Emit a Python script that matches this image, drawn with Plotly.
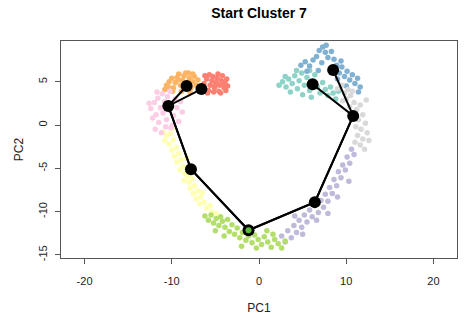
import plotly.graph_objects as go

# ---- data ----
salmon = [(-6.6,4.2),(-6.3,4.8),(-6.0,5.3),(-5.8,4.0),(-5.6,4.6),(-5.4,5.1),(-5.3,5.6),(-5.1,4.3),(-4.9,4.9),(-4.8,5.4),
          (-4.6,3.9),(-4.5,4.6),(-4.3,5.1),(-4.2,5.7),(-4.0,4.3),(-3.9,4.9),(-3.7,5.3),(-3.6,4.5),(-5.9,3.7),(-5.2,3.8),
          (-4.4,3.7),(-5.7,5.8),(-4.7,5.9),(-6.2,5.7),(-3.8,4.0),(-5.0,4.6),(-4.1,4.7),(-6.4,3.9)]
orange = [(-10.6,4.6),(-10.3,5.0),(-10.0,5.4),(-9.8,4.3),(-9.6,4.9),(-9.4,5.5),(-9.2,5.9),(-9.0,4.6),(-8.8,5.2),(-8.6,5.7),
          (-8.4,6.0),(-8.2,4.9),(-8.0,5.4),(-7.8,4.3),(-7.6,5.0),(-7.4,5.6),(-7.2,4.6),(-7.0,5.2),(-6.8,4.0),(-9.9,3.9),
          (-8.9,3.9),(-7.9,3.8),(-10.8,4.1),(-9.3,5.2),(-8.5,4.5),(-7.6,5.9),(-8.1,6.0),(-10.4,4.4)]
pink = [(-12.4,1.9),(-12.0,2.6),(-11.8,1.2),(-11.6,3.1),(-11.5,0.3),(-11.3,2.0),(-11.1,3.6),(-11.0,1.4),(-10.8,2.7),(-10.6,0.6),
        (-10.5,3.3),(-10.3,1.7),(-10.1,-0.3),(-10.0,2.5),(-9.8,1.1),(-9.6,3.0),(-9.4,2.0),(-9.2,0.4),(-9.0,2.7),(-8.8,1.5),
        (-12.2,0.8),(-11.9,-0.5),(-11.2,-0.9),(-10.7,-0.2),(-9.9,0.0),(-11.7,3.8),(-10.2,3.9),(-12.6,2.5)]
yellow = [(-11.0,-0.8),(-10.6,-1.2),(-10.2,-1.0),(-10.8,-1.8),(-10.3,-2.2),(-9.8,-1.7),(-10.0,-2.9),(-9.5,-2.6),(-9.7,-3.6),
          (-9.2,-3.3),(-9.4,-4.3),(-8.9,-4.0),(-8.7,-4.8),(-9.1,-5.2),(-8.5,-5.6),(-8.2,-5.9),(-8.6,-6.4),(-8.0,-6.6),
          (-7.7,-6.2),(-7.9,-7.3),(-7.4,-7.0),(-7.5,-7.9),(-7.0,-7.6),(-7.2,-8.5),(-6.7,-8.3),(-6.8,-9.1),(-6.3,-8.9),
          (-6.0,-9.6),(-5.6,-9.3),(-5.4,-10.0),(-4.9,-10.2),(-8.3,-3.8),(-7.6,-5.4),(-9.9,-0.4),(-6.5,-7.8)]
green = [(-6.2,-10.5),(-5.8,-11.0),(-5.5,-10.4),(-5.2,-11.3),(-4.9,-10.8),(-4.6,-11.6),(-4.4,-10.6),(-4.2,-11.1),(-3.9,-11.8),
         (-3.6,-10.9),(-3.4,-12.3),(-3.1,-11.5),(-2.8,-12.6),(-2.5,-11.9),(-2.2,-13.0),(-1.9,-12.4),(-1.5,-13.3),(-1.2,-12.8),
         (-0.8,-13.6),(-0.5,-12.7),(-0.1,-13.2),(0.3,-13.8),(0.6,-12.9),(1.0,-13.5),(1.4,-14.1),(1.8,-13.2),(2.2,-13.7),
         (2.6,-14.2),(3.0,-13.4),(-5.0,-12.2),(-2.0,-14.0),(-0.3,-14.2),(0.9,-12.2),(-4.0,-12.8),(1.6,-12.6)]
lavender = [(2.6,-12.8),(3.0,-13.5),(3.3,-12.2),(3.7,-13.0),(4.0,-11.6),(4.3,-12.4),(4.6,-11.0),(4.9,-11.8),(5.2,-10.4),
            (5.5,-11.2),(5.8,-9.8),(6.1,-10.6),(6.4,-9.3),(6.8,-10.1),(7.1,-8.7),(7.4,-9.5),(7.6,-8.0),(7.9,-8.8),(8.1,-7.2),
            (8.4,-7.9),(8.6,-6.3),(8.9,-7.0),(9.1,-5.4),(9.4,-6.1),(9.6,-4.6),(9.9,-5.2),(10.1,-3.7),(10.4,-4.4),(10.6,-2.8),
            (10.9,-3.4),(5.0,-12.6),(6.6,-11.0),(7.9,-10.2),(4.1,-10.5),(9.0,-8.3),(10.3,-6.5)]
gray = [(9.0,4.2),(9.5,4.6),(9.8,3.7),(10.2,4.1),(10.0,3.0),(10.5,3.4),(10.9,2.6),(10.4,2.1),(11.2,1.8),(11.6,2.3),(10.8,1.0),
        (11.4,0.6),(11.9,1.2),(11.1,-0.2),(11.7,-0.5),(12.2,0.2),(11.3,-1.2),(11.9,-1.6),(12.4,-0.9),(11.6,-2.3),(12.1,-2.8),
        (11.0,-2.0),(12.6,-1.8),(10.7,3.9),(12.3,2.9),(9.6,2.8)]
blue = [(4.8,6.9),(5.3,7.3),(5.8,6.8),(6.2,7.5),(6.6,7.9),(6.9,8.6),(7.3,9.0),(7.6,8.4),(7.9,7.8),(8.3,8.5),(8.6,7.6),(7.2,7.2),
        (8.9,6.9),(9.2,6.0),(9.5,6.7),(9.8,5.6),(10.1,6.2),(10.4,5.2),(10.7,5.8),(11.0,4.8),(11.3,5.4),(11.6,4.4),(10.0,4.5),
        (9.0,5.3),(8.4,6.4),(7.7,9.2),(5.5,6.2),(6.8,6.3),(11.4,3.8),(9.4,7.4)]
teal = [(2.3,4.6),(2.7,5.0),(3.1,4.4),(3.4,5.3),(3.8,4.8),(4.1,5.7),(4.4,4.2),(4.6,5.1),(4.9,6.0),(5.2,4.6),(5.5,5.5),(5.8,4.0),
        (6.1,5.0),(6.4,5.8),(6.7,4.4),(7.0,3.7),(7.3,4.9),(7.6,4.1),(7.9,3.4),(8.2,4.4),(8.5,3.7),(8.8,3.0),(9.1,3.9),(3.6,3.8),
        (5.0,3.5),(6.0,3.2),(3.0,5.6),(5.8,6.3),(4.3,6.3)]

clusters = [("teal", teal, "#8DD3C7"), ("yellow", yellow, "#FFFFB3"), ("lavender", lavender, "#BEBADA"),
            ("salmon", salmon, "#FB8072"), ("blue", blue, "#80B1D3"), ("orange", orange, "#FDB462"),
            ("green", green, "#B3DE69"), ("pink", pink, "#FCCDE5"), ("gray", gray, "#D9D9D9")]

# cluster centres
center_names = ["orange", "salmon", "pink", "yellow", "green", "lavender", "gray", "blue", "teal"]
center_x = [-8.3, -6.6, -10.4, -7.8, -1.2, 6.4, 10.8, 8.5, 6.15]
center_y = [4.5, 4.15, 2.2, -5.1, -12.15, -8.9, 1.05, 6.35, 4.7]
start_cluster = "green"

lineages = [["green", "yellow", "pink", "orange"],
            ["green", "yellow", "pink", "salmon"],
            ["green", "lavender", "gray", "blue"],
            ["green", "lavender", "gray", "teal"]]

x_ticks = [-20, -10, 0, 10, 20]
x_ticktext = ["-20", "-10", "0", "10", "20"]
y_ticks = [-15, -10, -5, 0, 5]
y_ticktext = ["-15", "-10", "-5", "0", "5"]

fig = go.Figure()
for name, pts, col in clusters:
    fig.add_trace(go.Scatter(x=[p[0] for p in pts], y=[p[1] for p in pts], mode="markers",
                             marker=dict(color=col, size=5.5, line=dict(width=0)), hoverinfo="skip"))

idx = {n: i for i, n in enumerate(center_names)}
for lin in lineages:
    fig.add_trace(go.Scatter(x=[center_x[idx[n]] for n in lin], y=[center_y[idx[n]] for n in lin],
                             mode="lines", line=dict(color="black", width=2)))

fig.add_trace(go.Scatter(x=center_x, y=center_y, mode="markers",
                         marker=dict(color="black", size=12, line=dict(width=0))))
s = idx[start_cluster]
fig.add_trace(go.Scatter(x=[center_x[s]], y=[center_y[s]], mode="markers",
                         marker=dict(color="#5DBB3A", size=6, line=dict(width=0))))

font_family = "Liberation Sans, Arial"
axis_common = dict(showgrid=False, zeroline=False, showline=True, mirror=True, linecolor="#555555",
                   linewidth=1, ticks="outside", ticklen=5, tickcolor="#555555",
                   tickfont=dict(family=font_family, size=11, color="#222222"))

fig.update_layout(
    width=474, height=324, showlegend=False,
    paper_bgcolor="white", plot_bgcolor="white",
    margin=dict(l=61, r=17, t=41, b=66),
    title=dict(text="<b>Start Cluster 7</b>", x=0.5, xref="paper", xanchor="center",
               y=1 - 13 / 324, yref="container", yanchor="middle",
               font=dict(family=font_family, size=14, color="black")),
    xaxis=dict(range=[-22.7, 22.7], tickvals=x_ticks, ticktext=x_ticktext, ticklabelstandoff=8,
               title=dict(text="PC1", standoff=17, font=dict(family=font_family, size=12, color="#222222")),
               **axis_common),
    yaxis=dict(range=[-15.35, 9.7], tickvals=y_ticks, ticktext=y_ticktext, tickangle=-90, ticklabelstandoff=4,
               title=dict(text="PC2", standoff=10, font=dict(family=font_family, size=12, color="#222222")),
               **axis_common),
)

fig.write_html("out.html")
